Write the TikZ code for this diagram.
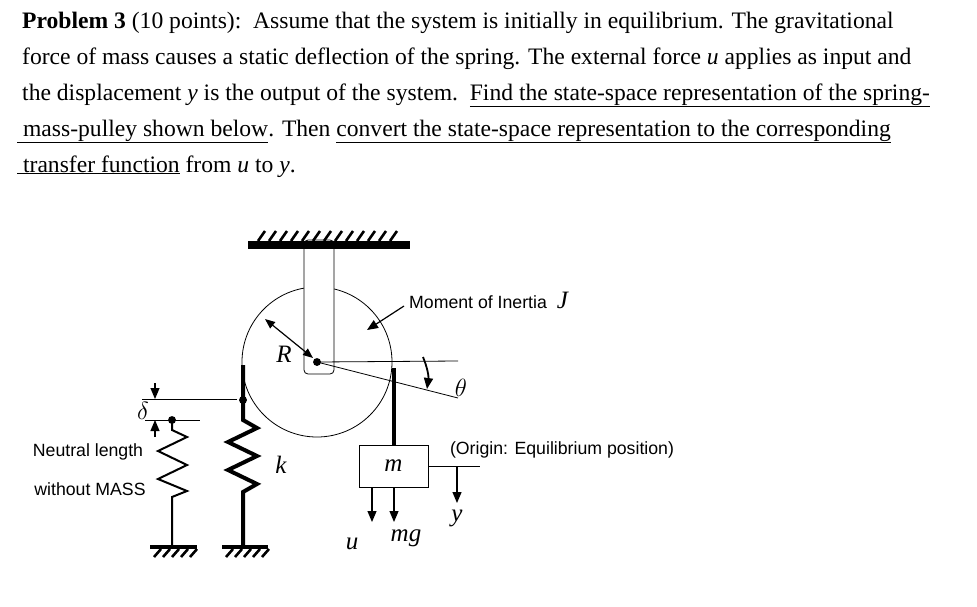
\documentclass[tikz,border=0pt]{standalone}
\usepackage{fontspec}
\setmainfont{Liberation Serif}
\newfontfamily\ar{Liberation Sans}
\usetikzlibrary{arrows.meta}
\begin{document}
\begin{tikzpicture}[x=1pt,y=-1pt,
  txt/.style={anchor=base west,inner sep=0,font=\fontsize{23.6}{26}\selectfont},
  lab/.style={inner sep=0,font=\ar\fontsize{17.7}{20}\selectfont},
  ml/.style={inner sep=0,font=\fontsize{25}{27}\selectfont\itshape},
  arr/.style={-{Triangle[length=11pt,width=9pt]},line width=1.2pt},
  thk/.style={line width=4pt},
  hl/.style={line width=2.6pt}]
\useasboundingbox (0,0) rectangle (977,606);
% text
\node[txt] (l1) at (22,28) {\textbf{Problem 3} (10 points):\ \ Assume that the system is initially in equilibrium. The gravitational};
\node[txt] (l2) at (22,64) {force of mass causes a static deflection of the spring. The external force \textit{u} applies as input and};
\node[txt] (l3) at (22,100) {the displacement \textit{y} is the output of the system.\ \ \underline{Find the state-space representation of the spring-}};
\node[txt] (l4) at (17,136) {\underline{\ mass-pulley shown below}. Then \underline{convert the state-space representation to the corresponding}};
\node[txt] (l5) at (17,172) {\underline{\ transfer function} from \textit{u} to \textit{y}.};
% pulley
\coordinate (c) at (317,362);
\draw[line width=0.8pt] (c) circle (75);
\draw[line width=0.8pt,fill=white,rounded corners=4pt] (304,240) rectangle (334,374);
% ceiling
\foreach \x in {258,269,...,400} \draw[hl] (\x,241) -- (\x+7,231);
\fill (248,241) rectangle (410,249);
\node[circle,fill,inner sep=2.8pt] (piv) at (c) {};
\draw[line width=0.8pt] (c) -- (458,361);
\draw[line width=0.8pt] (c) -- (458,398);
\draw[-{Triangle[length=11pt,width=9pt]},line width=1.8pt] (423,357) to[bend left=15] (427,389);
\node[ml] (th) at (461,388) {$\theta$};
\draw[{Triangle[length=10pt,width=8pt]}-{Triangle[length=10pt,width=8pt]},line width=1.2pt] (265,319) -- (313,358);
\node[ml] (R) at (284,354) {R};
\draw[arr] (404,306) -- (367,330);
\node[lab,anchor=west] (J) at (409,300) {Moment of Inertia \ \fontsize{25}{27}\selectfont\rmfamily\itshape J};
% left rope & spring k
\draw[thk] (243,365) -- (243,420) -- (257,428) -- (228,442) -- (257,456) -- (228,470) -- (257,484) -- (243,492) -- (243,545);
\node[circle,fill,inner sep=2.8pt] (d1) at (243,400) {};
\foreach \x in {226,235,...,262} \draw[hl] (\x,557) -- (\x+7,549);
\fill (222,545) rectangle (268,549);
\node[ml] (k) at (281,465) {k};
% neutral spring
\draw[line width=0.8pt] (142,399) -- (237,399);
\draw[line width=0.8pt] (145,420) -- (200,420);
\draw[line width=2pt] (172,420) -- (172,430) -- (187,437) -- (158,451) -- (187,465) -- (158,479) -- (187,491) -- (172,497) -- (172,545);
\node[circle,fill,inner sep=2.8pt] (d2) at (172,420) {};
\foreach \x in {154,163,...,192} \draw[hl] (\x,557) -- (\x+7,549);
\fill (150,545) rectangle (197,549);
\draw[arr] (155,383) -- (155,399);
\draw[arr] (155,437) -- (155,420);
\node[ml] (del) at (143,411) {$\delta$};
\node[lab] (n1) at (88,452) {Neutral length};
\node[lab] (n2) at (90,489) {without MASS};
% right rope & mass
\draw[thk] (394,368) -- (394,445);
\node[draw,line width=0.8pt,minimum width=69pt,minimum height=42pt,inner sep=0] (m) at (393.5,466) {\fontsize{25}{27}\selectfont\itshape m};
\draw[line width=0.8pt] (m.east) -- (480,466);
\draw[arr] (457,466) -- (457,503);
\node[ml] (y) at (457,518) {y};
\draw[arr] (372,487) -- (372,522);
\draw[arr] (394,487) -- (394,522);
\node[ml] (u) at (352,544) {u};
\node[ml] (mg) at (406,538) {mg};
\node[lab] (o) at (562,450) {(Origin: Equilibrium position)};
\end{tikzpicture}
\end{document}
